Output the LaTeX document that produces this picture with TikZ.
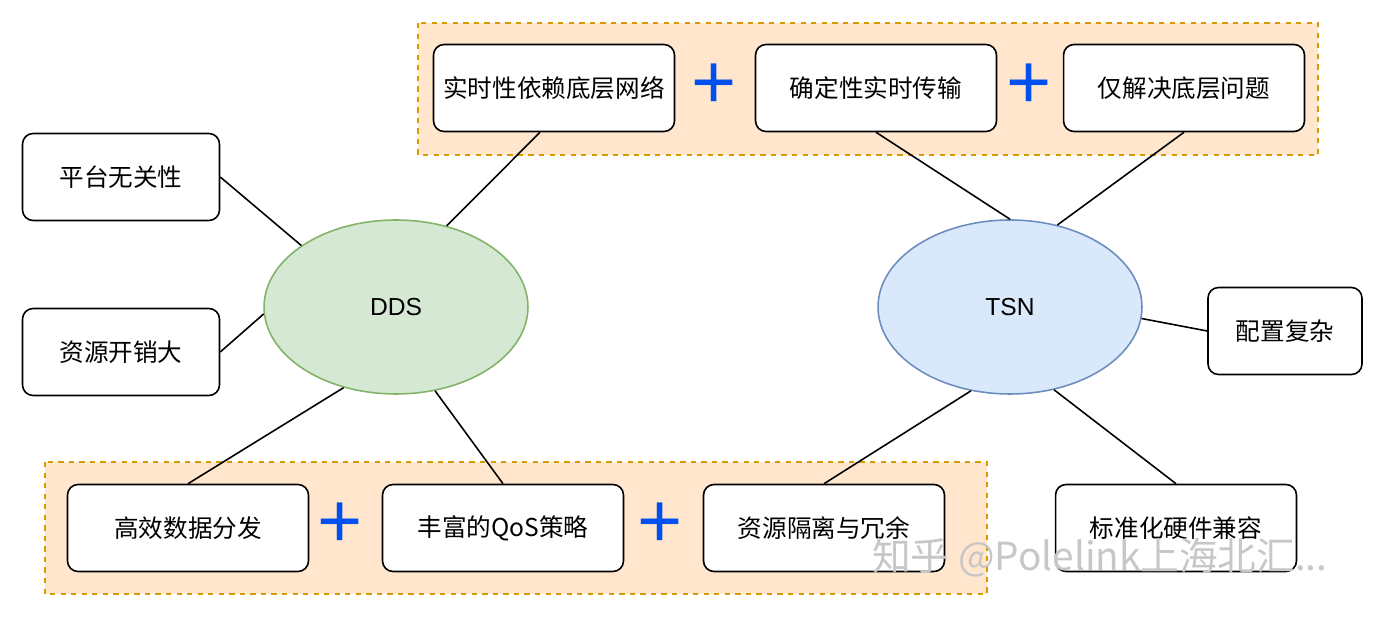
\documentclass[tikz,border=0pt]{standalone}
\usepackage{fontspec}
\setmainfont{Liberation Sans}
\newfontfamily\cjk{Noto Sans CJK SC}
\usetikzlibrary{shapes.geometric}
\definecolor{grpfill}{HTML}{FFE6CC}
\definecolor{grpdraw}{HTML}{D79B00}
\definecolor{ddsfill}{HTML}{D5E8D4}
\definecolor{ddsdraw}{HTML}{82B366}
\definecolor{tsnfill}{HTML}{DAE8FC}
\definecolor{tsndraw}{HTML}{6C8EBF}
\definecolor{plusc}{HTML}{0050EF}
\begin{document}
\begin{tikzpicture}[x=0.02cm,y=-0.02cm,
  grp/.style={draw=grpdraw,fill=grpfill,dashed,line width=0.9pt},
  box/.style={draw,fill=white,rounded corners=6pt,line width=0.9pt,minimum width=4.82cm,minimum height=1.74cm,font=\cjk\fontsize{14}{16}\selectfont,inner sep=0pt},
  sbox/.style={box,minimum width=3.94cm},
  tbox/.style={box,minimum width=3.08cm},
  plus/.style={text=plusc,font=\fontsize{44}{44}\selectfont,inner sep=0pt},
  ell/.style={ellipse,line width=0.9pt,minimum width=5.28cm,minimum height=3.48cm,font=\fontsize{14}{16}\selectfont},
  conn/.style={line width=0.9pt}]
\useasboundingbox (0,0) rectangle (1385,617);
\draw[grp] (418,23) rectangle (1318,155);
\draw[grp] (45,462) rectangle (987,594);
\node[ell,draw=ddsdraw,fill=ddsfill] (dds) at (396,307) {DDS};
\node[ell,draw=tsndraw,fill=tsnfill] (tsn) at (1010,307) {TSN};
\node[box] (t1) at (554,88) {实时性依赖底层网络};
\node[box] (t2) at (876,88) {确定性实时传输};
\node[box] (t3) at (1184,88) {仅解决底层问题};
\node[plus] (pa) at (714,86) {+};
\node[plus] (pb) at (1029,86) {+};
\node[box] (b1) at (188,528) {高效数据分发};
\node[box] (b2) at (503,528) {丰富的QoS策略};
\node[box] (b3) at (824,528) {资源隔离与冗余};
\node[plus] (pc) at (340,525) {+};
\node[plus] (pd) at (660,525) {+};
\node[sbox] (l1) at (121,177) {平台无关性};
\node[sbox] (l2) at (121,352) {资源开销大};
\node[tbox] (r1) at (1285,331) {配置复杂};
\node[box] (r2) at (1176,528) {标准化硬件兼容};
\draw[conn] (l1.east) -- (dds.147);
\draw[conn] (l2.east) -- (dds.183);
\draw[conn] (dds.58) -- ([xshift=-0.28cm]t1.south);
\draw[conn] (dds.237) -- (b1.north);
\draw[conn] (dds.295) -- (b2.north);
\draw[conn] (tsn.90) -- (t2.south);
\draw[conn] (tsn.60) -- (t3.south);
\draw[conn] (tsn.-5) -- (r1.west);
\draw[conn] (tsn.245) -- (b3.north);
\draw[conn] (tsn.298) -- (r2.north);
\node[text=black!22,font=\cjk\fontsize{22}{24}\selectfont,anchor=west] (wm) at (866,558) {知乎 @Polelink上海北汇...};
\end{tikzpicture}
\end{document}
